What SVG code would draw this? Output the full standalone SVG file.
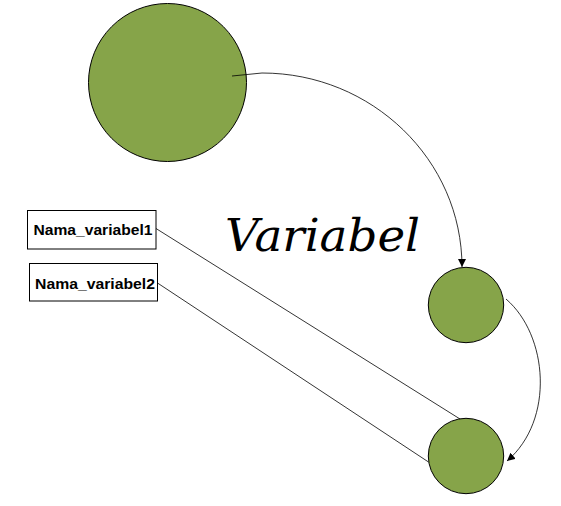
<svg xmlns="http://www.w3.org/2000/svg" width="561" height="506" viewBox="0 0 561 506">
<style>
.node{fill:#86a449;stroke:#000;stroke-width:1}
.box{fill:#fff;stroke:#000;stroke-width:1}
.conn{fill:none;stroke:#000;stroke-width:0.8}
.lbl{font-family:"Liberation Sans",Arial,sans-serif;font-weight:bold;font-size:15.5px;fill:#000}
.title{font-family:"DejaVu Serif","Liberation Serif",serif;font-style:italic;font-size:44px;fill:#000}
</style>
<defs>
<marker id="arr" viewBox="0 0 10 10" refX="10" refY="5" markerWidth="8" markerHeight="8" markerUnits="userSpaceOnUse" orient="auto">
<path d="M0,0 L10,5 L0,10 z" fill="#000"/>
</marker>
</defs>
<rect width="561" height="506" fill="#fff"/>
<g id="node-big"><circle class="node" cx="167.5" cy="82.5" r="79"/></g>
<g id="node-mid"><circle class="node" cx="466" cy="305" r="37.7"/></g>
<g id="node-bottom"><circle class="node" cx="466" cy="456" r="37.7"/></g>
<g id="box1"><rect class="box" x="27.5" y="210.5" width="128.5" height="38.5"/><text class="lbl" x="33.5" y="234.5" textLength="119" lengthAdjust="spacingAndGlyphs">Nama_variabel1</text></g>
<g id="box2"><rect class="box" x="29.5" y="263.5" width="128" height="37.5"/><text class="lbl" x="35" y="288.7" textLength="120" lengthAdjust="spacingAndGlyphs">Nama_variabel2</text></g>
<g id="title"><text class="title" x="225" y="251" textLength="195" lengthAdjust="spacingAndGlyphs">Variabel</text></g>
<g id="connectors">
<path class="conn" d="M232,76 L262,73 C372,73 462,160 462,267" marker-end="url(#arr)"/>
<path class="conn" d="M506,299 C548,335 555,420 507,461" marker-end="url(#arr)"/>
<path class="conn" d="M156,228.5 L460,419"/>
<path class="conn" d="M157.5,283 L428.5,462"/>
</g>
</svg>
